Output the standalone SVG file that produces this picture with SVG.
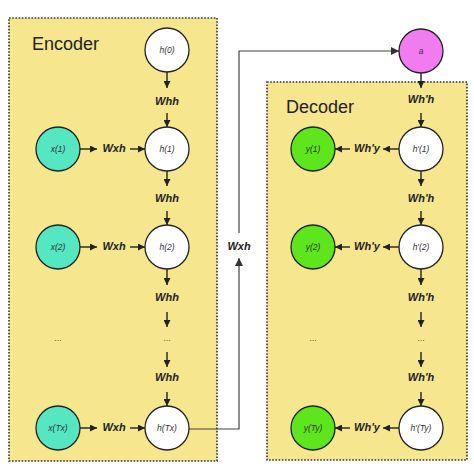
<svg xmlns="http://www.w3.org/2000/svg" width="474" height="468" viewBox="0 0 474 468">
<style>
.box{fill:#f6e68e;stroke:#333;stroke-width:1.6;stroke-dasharray:1.6 1.6}
.title{font-family:"Liberation Sans",Arial,sans-serif;font-size:18px;fill:#222}
.node{stroke:#222;stroke-width:1.3}
.h{fill:#ffffff}
.x{fill:#55e6c2}
.y{fill:#5de61c}
.a{fill:#f07cf0}
.nt{font-family:"Liberation Sans",Arial,sans-serif;font-size:8.5px;font-style:italic;fill:#333;text-anchor:middle;dominant-baseline:central}
.lb{font-family:"Liberation Sans",Arial,sans-serif;font-size:11px;font-style:italic;font-weight:bold;fill:#222;text-anchor:middle;dominant-baseline:central}
.dots{font-family:"Liberation Sans",Arial,sans-serif;font-size:9px;fill:#555;text-anchor:middle}
.e{stroke:#222;stroke-width:1.4;fill:none;marker-end:url(#ah)}
.c{stroke:#444;stroke-width:1.2;fill:none}
</style>
<defs>
<marker id="ah" viewBox="0 0 10 10" refX="10" refY="5" markerWidth="7" markerHeight="7" markerUnits="userSpaceOnUse" orient="auto">
<path d="M0,0 L10,5 L0,10 z" fill="#222"/>
</marker>
<marker id="ah2" viewBox="0 0 10 10" refX="10" refY="5" markerWidth="8" markerHeight="8" markerUnits="userSpaceOnUse" orient="auto">
<path d="M0,0 L10,5 L0,10 z" fill="#333"/>
</marker>
</defs>

<g id="encoder">
<rect class="box" x="9" y="18" width="208" height="443"/>
<text class="title" x="32" y="50">Encoder</text>
</g>
<g id="decoder">
<rect class="box" x="267" y="82" width="200" height="378"/>
<text class="title" x="286" y="113">Decoder</text>
</g>

<g id="connectors">
<!-- encoder vertical -->
<line class="e" x1="167" y1="72" x2="167" y2="88"/>
<text class="lb" x="167" y="101">Whh</text>
<line class="e" x1="167" y1="113" x2="167" y2="127"/>
<line class="e" x1="167" y1="171" x2="167" y2="186"/>
<text class="lb" x="167" y="198">Whh</text>
<line class="e" x1="167" y1="211" x2="167" y2="225"/>
<line class="e" x1="167" y1="269" x2="167" y2="285"/>
<text class="lb" x="167" y="297">Whh</text>
<line class="e" x1="167" y1="312" x2="167" y2="327"/>
<text class="dots" x="167" y="341">...</text>
<text class="dots" x="58" y="341">...</text>
<line class="e" x1="167" y1="352" x2="167" y2="367"/>
<text class="lb" x="167" y="377">Whh</text>
<line class="e" x1="167" y1="392" x2="167" y2="406"/>
<!-- encoder horizontal -->
<line class="e" x1="80" y1="149" x2="97" y2="149"/>
<text class="lb" x="114" y="148">Wxh</text>
<line class="e" x1="130" y1="149" x2="145" y2="149"/>
<line class="e" x1="80" y1="247" x2="97" y2="247"/>
<text class="lb" x="114" y="246">Wxh</text>
<line class="e" x1="130" y1="247" x2="145" y2="247"/>
<line class="e" x1="80" y1="428" x2="97" y2="428"/>
<text class="lb" x="114" y="427">Wxh</text>
<line class="e" x1="130" y1="428" x2="145" y2="428"/>
<!-- encoder to a -->
<polyline class="c" points="189,429 239,429 239,258" marker-end="url(#ah2)"/>
<text class="lb" x="239" y="246">Wxh</text>
<polyline class="c" points="239,233 239,51 399,51" marker-end="url(#ah2)"/>
<!-- decoder vertical -->
<line class="e" x1="421" y1="73" x2="421" y2="88"/>
<text class="lb" x="421" y="99">Wh'h</text>
<line class="e" x1="421" y1="113" x2="421" y2="127"/>
<line class="e" x1="421" y1="171" x2="421" y2="186"/>
<text class="lb" x="421" y="198">Wh'h</text>
<line class="e" x1="421" y1="211" x2="421" y2="225"/>
<line class="e" x1="421" y1="269" x2="421" y2="285"/>
<text class="lb" x="421" y="297">Wh'h</text>
<line class="e" x1="421" y1="312" x2="421" y2="327"/>
<text class="dots" x="421" y="341">...</text>
<text class="dots" x="313" y="341">...</text>
<line class="e" x1="421" y1="352" x2="421" y2="367"/>
<text class="lb" x="421" y="377">Wh'h</text>
<line class="e" x1="421" y1="392" x2="421" y2="406"/>
<!-- decoder horizontal -->
<line class="e" x1="399" y1="149" x2="383" y2="149"/>
<text class="lb" x="367" y="148">Wh'y</text>
<line class="e" x1="350" y1="149" x2="335" y2="149"/>
<line class="e" x1="399" y1="247" x2="383" y2="247"/>
<text class="lb" x="367" y="246">Wh'y</text>
<line class="e" x1="350" y1="247" x2="335" y2="247"/>
<line class="e" x1="399" y1="428" x2="383" y2="428"/>
<text class="lb" x="367" y="427">Wh'y</text>
<line class="e" x1="350" y1="428" x2="335" y2="428"/>
</g>

<g id="h0"><circle class="node h" cx="167" cy="50" r="22"/><text class="nt" x="167" y="50">h(0)</text></g>
<g id="h1"><circle class="node h" cx="167" cy="149" r="22"/><text class="nt" x="167" y="149">h(1)</text></g>
<g id="h2"><circle class="node h" cx="167" cy="247" r="22"/><text class="nt" x="167" y="247">h(2)</text></g>
<g id="hTx"><circle class="node h" cx="167" cy="428" r="22"/><text class="nt" x="167" y="428">h(Tx)</text></g>
<g id="x1"><circle class="node x" cx="58" cy="149" r="22"/><text class="nt" x="58" y="149">x(1)</text></g>
<g id="x2"><circle class="node x" cx="58" cy="247" r="22"/><text class="nt" x="58" y="247">x(2)</text></g>
<g id="xTx"><circle class="node x" cx="58" cy="428" r="22"/><text class="nt" x="58" y="428">x(Tx)</text></g>
<g id="a"><circle class="node a" cx="421" cy="51" r="22"/><text class="nt" x="421" y="51">a</text></g>
<g id="hp1"><circle class="node h" cx="421" cy="149" r="22"/><text class="nt" x="421" y="149">h'(1)</text></g>
<g id="hp2"><circle class="node h" cx="421" cy="247" r="22"/><text class="nt" x="421" y="247">h'(2)</text></g>
<g id="hpTy"><circle class="node h" cx="421" cy="428" r="22"/><text class="nt" x="421" y="428">h'(Ty)</text></g>
<g id="y1"><circle class="node y" cx="313" cy="149" r="22"/><text class="nt" x="313" y="149">y(1)</text></g>
<g id="y2"><circle class="node y" cx="313" cy="247" r="22"/><text class="nt" x="313" y="247">y(2)</text></g>
<g id="yTy"><circle class="node y" cx="313" cy="428" r="22"/><text class="nt" x="313" y="428">y(Ty)</text></g>
</svg>
